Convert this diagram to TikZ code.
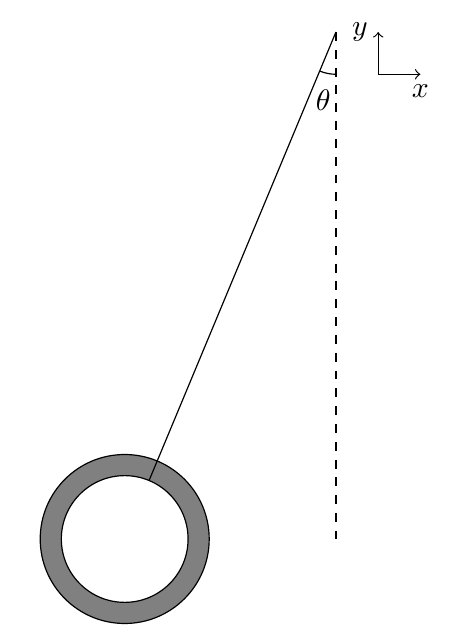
\documentclass[tikz,border=0pt]{standalone}
\usetikzlibrary{calc}
\begin{document}
\begin{tikzpicture}[
  axisarrow/.style={->},
  ringfill/.style={fill=gray, even odd rule}
]
\useasboundingbox (-3.976,0.379) rectangle (1.574,-7.231);
\coordinate (pivot) at (0,0);
\coordinate (bottom) at (0,-6);
\coordinate (center) at (-2.5,-6);
\coordinate (bob) at ($(center)!0.75cm!(pivot)$);
% dashed vertical
\draw[dashed] (pivot) -- (bottom);
% ring
\fill[ringfill] (center) circle (1) (center) circle (0.75);
\draw (center) circle (1);
\draw (center) circle (0.75);
% string
\draw (pivot) -- (bob);
% angle arc
\draw (pivot) ++(-90:0.5) arc (-90:-112.62:0.5);
\node (theta) at (-0.15,-0.805) {$\theta$};
% axes
\coordinate (O) at (0.5,-0.5);
\coordinate (Y) at (0.5,0);
\coordinate (X) at (1,-0.5);
\draw[axisarrow] (O) -- (Y);
\draw[axisarrow] (O) -- (X);
\node[left] (ylab) at (Y) {$y$};
\node[below] (xlab) at (X) {$x$};
\end{tikzpicture}
\end{document}
